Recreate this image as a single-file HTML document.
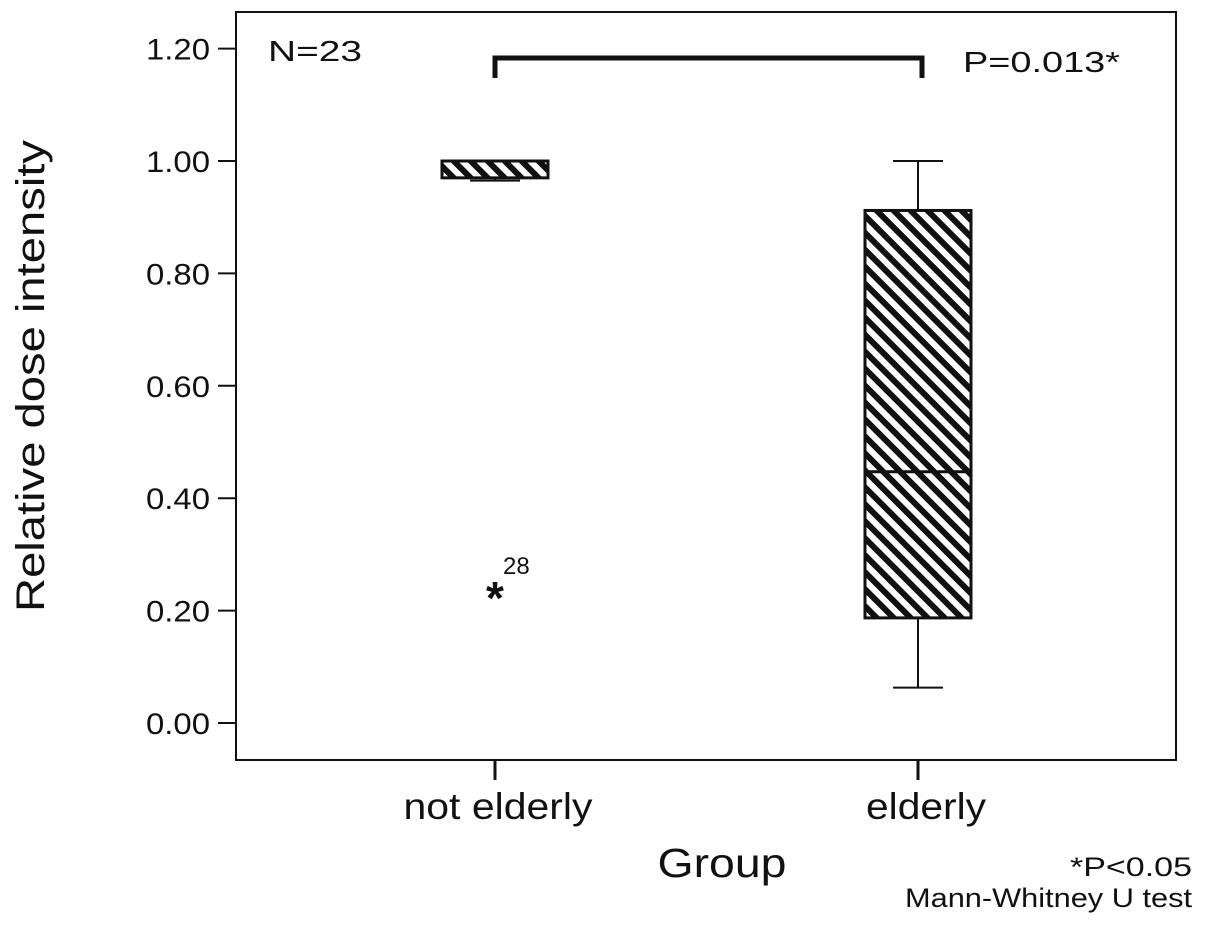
<!DOCTYPE html>
<html><head><meta charset="utf-8"><style>
body{margin:0;background:#fff}
svg text{font-family:"Liberation Sans",sans-serif;fill:#111}
</style></head><body>
<svg width="1205" height="927" xmlns="http://www.w3.org/2000/svg">
<defs><pattern id="hatch" width="12" height="12" patternUnits="userSpaceOnUse" patternTransform="rotate(-45)">
<rect width="12" height="12" fill="#fff"/><rect width="6" height="12" fill="#111"/></pattern></defs>
<rect x="236" y="12" width="940" height="748" fill="none" stroke="#111" stroke-width="2"/>
<g id="yaxis"></g>
<g id="marks"></g>
<text x="44" y="376" font-size="40" text-anchor="middle" textLength="472" lengthAdjust="spacingAndGlyphs" transform="rotate(-90 44 376)">Relative dose intensity</text>
<text x="722" y="877" font-size="41" text-anchor="middle" textLength="129" lengthAdjust="spacingAndGlyphs">Group</text>
<text x="268" y="61" font-size="29" textLength="94" lengthAdjust="spacingAndGlyphs">N=23</text>
<text x="963" y="72" font-size="29" textLength="157" lengthAdjust="spacingAndGlyphs">P=0.013*</text>
<path d="M495 78 V58 H922 V78" fill="none" stroke="#111" stroke-width="5"/>
<text x="1070" y="876" font-size="27" textLength="122" lengthAdjust="spacingAndGlyphs">*P&lt;0.05</text>
<text x="905" y="907" font-size="27" textLength="287" lengthAdjust="spacingAndGlyphs">Mann-Whitney U test</text>
</svg>
<script>
const categories=["not elderly","elderly"];
const q1=[0.97,0.187];
const median=[1.0,0.447];
const q3=[1.0,0.912];
const whiskerLow=[0.965,0.063];
const whiskerHigh=[1.0,1.0];
const outliers=[{cat:0,value:0.24,label:"28"}];
const yTicks=[0,0.2,0.4,0.6,0.8,1.0,1.2];
const labelWidths=[189,120];
const labelOffsets=[3,8];
const NS="http://www.w3.org/2000/svg";
const y=v=>723-v*562;
const x=i=>495+i*423;
function mk(tag,attrs,parent,text){const e=document.createElementNS(NS,tag);for(const k in attrs)e.setAttribute(k,attrs[k]);if(text!==undefined)e.textContent=text;parent.appendChild(e);return e;}
const ya=document.getElementById('yaxis'),mg=document.getElementById('marks');
yTicks.forEach(t=>{
const l=mk('line',{x1:218,x2:236,y1:y(t),y2:y(t),stroke:'#111','stroke-width':2},ya);


const tx=mk('text',{x:210,y:y(t)+11,'font-size':30,'text-anchor':'end',textLength:64,lengthAdjust:'spacingAndGlyphs'},ya,t.toFixed(2));


});
const svg=document.querySelector('svg');
categories.forEach((c,i)=>{
const cx=x(i);
const tk=mk('line',{x1:cx,x2:cx,y1:760,y2:780,stroke:'#111','stroke-width':3},svg);


const lb=mk('text',{x:cx+labelOffsets[i],y:819,'font-size':37,'text-anchor':'middle',textLength:labelWidths[i],lengthAdjust:'spacingAndGlyphs'},svg,c);


const w=mk('path',{d:`M${cx} ${y(q3[i])} V${y(whiskerHigh[i])} M${cx-25} ${y(whiskerHigh[i])} H${cx+25} M${cx} ${y(q1[i])} V${y(whiskerLow[i])} M${cx-25} ${y(whiskerLow[i])} H${cx+25}`,stroke:'#111','stroke-width':2,fill:'none'},mg);


const b=mk('rect',{x:cx-53,y:y(q3[i]),width:106,height:Math.max(y(q1[i])-y(q3[i]),1),fill:'url(#hatch)',stroke:'#111','stroke-width':3},mg);


const m=mk('line',{x1:cx-53,x2:cx+53,y1:y(median[i]),y2:y(median[i]),stroke:'#111','stroke-width':3},mg);


});
outliers.forEach(o=>{
const s=mk('text',{x:x(o.cat),y:y(o.value)+26,'font-size':46,'font-weight':'bold','text-anchor':'middle'},mg,'*');


const l=mk('text',{x:x(o.cat)+8,y:y(o.value)-14,'font-size':24},mg,o.label);


});
</script>
</body></html>
